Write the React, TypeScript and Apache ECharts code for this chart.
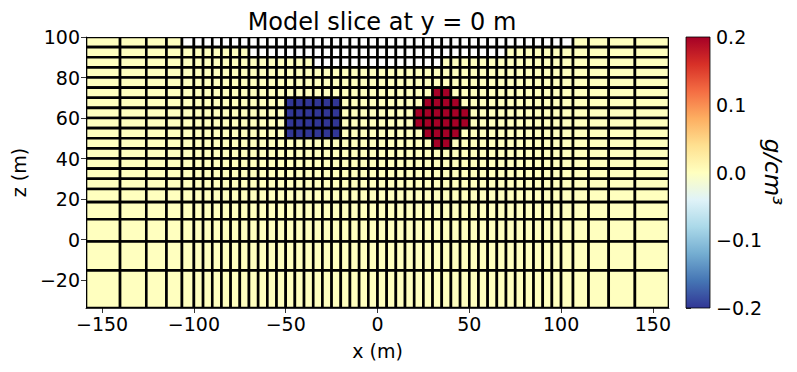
import React, { useEffect, useRef } from "react";
import * as echarts from "echarts";

// Mesh cell widths (m): x from west to east, z from top to bottom
const hx = [
  18.56, 14.28, 10.99, 8.45, 6.5,
  5, 5, 5, 5, 5, 5, 5, 5, 5, 5, 5, 5, 5, 5, 5, 5, 5, 5, 5, 5,
  5, 5, 5, 5, 5, 5, 5, 5, 5, 5, 5, 5, 5, 5, 5, 5, 5, 5, 5, 5,
  6.5, 8.45, 10.99, 14.28, 18.56,
];
const hz = [5, 5, 5, 5, 5, 5, 5, 5, 5, 5, 5, 5, 5, 5, 5, 6.5, 8.45, 10.99, 14.28, 18.56];
const xStart = -158.78;
const zTop = 100;

// Air (inactive) cells per row, top rows
const airRowTop = [100, 95, 90];
const airXMin = [-106.5, -70, -35];
const airXMax = [106.5, 70, 35];

// Block (negative density)
const blockX = [-50, -20];
const blockZ = [50, 70];
const blockDensity = -0.2;

// Sphere (positive density), one entry per row
const sphereRowTop = [75, 70, 65, 60, 55, 50];
const sphereXMin = [30, 25, 20, 20, 25, 30];
const sphereXMax = [40, 45, 50, 50, 45, 40];
const sphereDensity = 0.2;

const xTicks = [-150, -100, -50, 0, 50, 100, 150];
const zTicks = [-20, 0, 20, 40, 60, 80, 100];
const cbRange = [-0.2, 0.2];

// RdYlBu_r colour stops (low -> high)
const cmapStops = [
  "#313695", "#4575b4", "#74add1", "#abd9e9", "#e0f3f8", "#ffffbf",
  "#fee090", "#fdae61", "#f46d43", "#d73027", "#a50026",
];

function hexToRgb(h: string) {
  const n = parseInt(h.slice(1), 16);
  return [(n >> 16) & 255, (n >> 8) & 255, n & 255];
}
function cmap(v: number) {
  let t = (v - cbRange[0]) / (cbRange[1] - cbRange[0]);
  t = Math.max(0, Math.min(1, t));
  const pos = t * (cmapStops.length - 1);
  const i = Math.min(Math.floor(pos), cmapStops.length - 2);
  const f = pos - i;
  const a = hexToRgb(cmapStops[i]);
  const b = hexToRgb(cmapStops[i + 1]);
  const c = a.map((av, k) => Math.round(av + (b[k] - av) * f));
  return `rgb(${c[0]},${c[1]},${c[2]})`;
}

const fmt = (v: number, d = 0) => {
  const s = Math.abs(v) < 1e-9 ? (0).toFixed(d) : v.toFixed(d);
  return s.replace("-", "\u2212");
};

function buildCells() {
  const cells: number[][] = [];
  let z1 = zTop;
  for (let j = 0; j < hz.length; j++) {
    const z0 = z1 - hz[j];
    const zc = (z0 + z1) / 2;
    let x0 = xStart;
    for (let i = 0; i < hx.length; i++) {
      const x1 = x0 + hx[i];
      const xc = (x0 + x1) / 2;
      let air = 0;
      let v = 0;
      for (let r = 0; r < airRowTop.length; r++) {
        if (zc < airRowTop[r] && zc > airRowTop[r] - 5 && xc > airXMin[r] && xc < airXMax[r]) air = 1;
      }
      if (xc > blockX[0] && xc < blockX[1] && zc > blockZ[0] && zc < blockZ[1]) v = blockDensity;
      for (let r = 0; r < sphereRowTop.length; r++) {
        if (zc < sphereRowTop[r] && zc > sphereRowTop[r] - 5 && xc > sphereXMin[r] && xc < sphereXMax[r]) v = sphereDensity;
      }
      cells.push([x0, x1, z0, z1, v, air]);
      x0 = x1;
    }
    z1 = z0;
  }
  return cells;
}

const FONT = "DejaVu Sans";
const TICK_FS = 19;

export default function App() {
  const ref = useRef<HTMLDivElement>(null);
  useEffect(() => {
    if (!ref.current) return;
    const chart = echarts.init(ref.current, null, { renderer: "svg" });
    const cells = buildCells();
    const xMax = xStart + hx.reduce((a, b) => a + b, 0);
    const zMin = zTop - hz.reduce((a, b) => a + b, 0);
    const tickLabel = { fontFamily: FONT, fontSize: TICK_FS, color: "#000", margin: 6 };
    chart.setOption({
      animation: false,
      backgroundColor: "#ffffff",
      title: {
        text: "Model slice at y = 0 m",
        left: 377,
        textAlign: "center",
        top: 5,
        textStyle: { fontFamily: FONT, fontSize: 24, fontWeight: "normal", color: "#000" },
      },
      grid: [
        { left: 86, top: 37, width: 583, height: 271 },
        { left: 686, top: 37, width: 24, height: 271 },
      ],
      xAxis: [
        {
          type: "value",
          gridIndex: 0,
          min: xStart,
          max: xMax,
          name: "x (m)",
          nameLocation: "middle",
          nameGap: 33,
          nameTextStyle: { fontFamily: FONT, fontSize: TICK_FS, color: "#000" },
          axisLine: { show: true, onZero: false, lineStyle: { color: "#000", width: 0.8 } },
          axisTick: { show: true, inside: false, length: 5, customValues: xTicks, lineStyle: { color: "#000", width: 0.8 } },
          axisLabel: { ...tickLabel, customValues: xTicks, formatter: (v: number) => fmt(v) },
          splitLine: { show: false },
        },
        { type: "value", gridIndex: 1, min: 0, max: 1, show: false },
      ],
      yAxis: [
        {
          type: "value",
          gridIndex: 0,
          min: zMin,
          max: zTop,
          name: "z (m)",
          nameLocation: "middle",
          nameGap: 58,
          nameTextStyle: { fontFamily: FONT, fontSize: TICK_FS, color: "#000" },
          axisLine: { show: true, onZero: false, lineStyle: { color: "#000", width: 0.8 } },
          axisTick: { show: true, inside: false, length: 5, customValues: zTicks, lineStyle: { color: "#000", width: 0.8 } },
          axisLabel: { ...tickLabel, customValues: zTicks, formatter: (v: number) => fmt(v) },
          splitLine: { show: false },
        },
        {
          type: "value",
          gridIndex: 1,
          position: "right",
          min: -0.2,
          max: 0.2,
          interval: 0.1,
          axisLine: { show: false },
          axisTick: { show: true, inside: false, length: 5, lineStyle: { color: "#000", width: 0.8 } },
          axisLabel: { ...tickLabel, formatter: (v: number) => fmt(v, 1) },
          splitLine: { show: false },
        },
      ],
      series: [
        {
          type: "custom",
          xAxisIndex: 0,
          yAxisIndex: 0,
          clip: true,
          data: cells,
          encode: { x: [0, 1], y: [2, 3] },
          renderItem: (params: any, api: any) => {
            const p0 = api.coord([api.value(0), api.value(3)]);
            const p1 = api.coord([api.value(1), api.value(2)]);
            const air = api.value(5) === 1;
            const fill = air ? "#ffffff" : cmap(api.value(4));
            return {
              type: "rect",
              shape: { x: p0[0], y: p0[1], width: p1[0] - p0[0], height: p1[1] - p0[1] },
              style: { fill, stroke: "#000", lineWidth: 2.6 },
            };
          },
        },
        {
          type: "custom",
          xAxisIndex: 1,
          yAxisIndex: 1,
          data: [[0, 1, cbRange[0], cbRange[1]]],
          renderItem: (params: any, api: any) => {
            const p0 = api.coord([api.value(0), api.value(3)]);
            const p1 = api.coord([api.value(1), api.value(2)]);
            const stops = cmapStops
              .map((c, i) => ({ offset: 1 - i / (cmapStops.length - 1), color: c }))
              .reverse();
            return {
              type: "rect",
              shape: { x: p0[0], y: p0[1], width: p1[0] - p0[0], height: p1[1] - p0[1] },
              style: {
                fill: new echarts.graphic.LinearGradient(0, 0, 0, 1, stops),
                stroke: "#000",
                lineWidth: 0.8,
              },
            };
          },
        },
      ],
      graphic: [
        {
          type: "text",
          x: 773,
          y: 172,
          rotation: -Math.PI / 2,
          style: {
            text: "g/cm\u00b3",
            fontFamily: FONT,
            fontStyle: "italic",
            fontSize: 23,
            fill: "#000",
            textAlign: "center",
            textVerticalAlign: "middle",
          },
        },
      ],
    });
    return () => chart.dispose();
  }, []);
  return (
    <div
      ref={ref}
      style={{ position: "absolute", left: 0, top: 0, width: 797, height: 372 }}
    />
  );
}
